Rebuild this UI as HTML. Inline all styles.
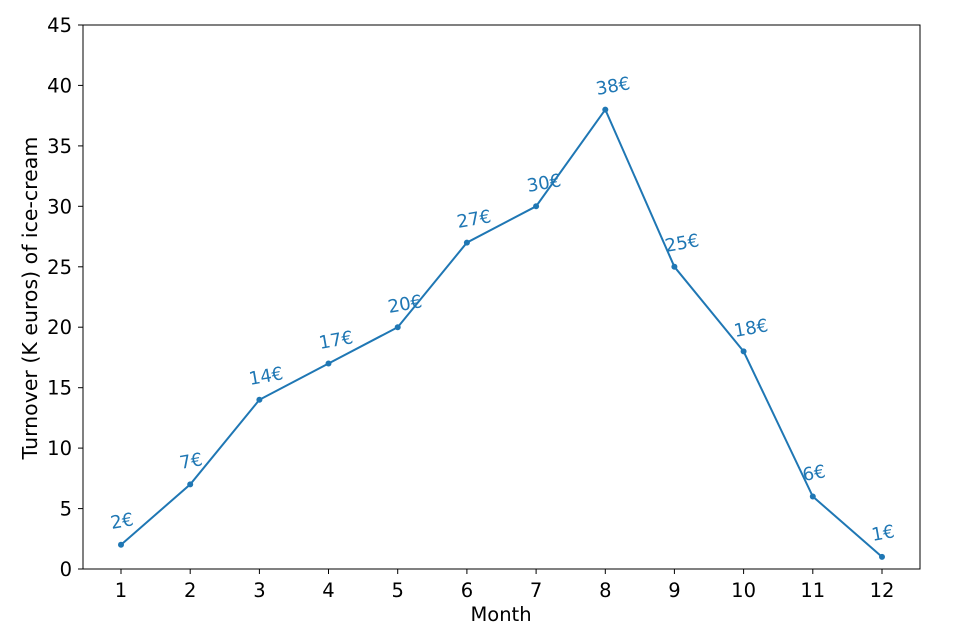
<!DOCTYPE html>
<html><head><style>body{margin:0;background:#fff}svg{display:block}</style></head>
<body>
<svg width="964" height="642" xmlns="http://www.w3.org/2000/svg" font-family="DejaVu Sans, Liberation Sans, sans-serif">
<rect width="964" height="642" fill="#fff"/>
<g stroke="#000" stroke-width="1">
<line x1="83" y1="569" x2="78" y2="569"/><line x1="83" y1="508.6" x2="78" y2="508.6"/>
<line x1="83" y1="448.1" x2="78" y2="448.1"/><line x1="83" y1="387.7" x2="78" y2="387.7"/>
<line x1="83" y1="327.2" x2="78" y2="327.2"/><line x1="83" y1="266.8" x2="78" y2="266.8"/>
<line x1="83" y1="206.3" x2="78" y2="206.3"/><line x1="83" y1="145.9" x2="78" y2="145.9"/>
<line x1="83" y1="85.4" x2="78" y2="85.4"/><line x1="83" y1="25" x2="78" y2="25"/>
<line x1="121" y1="569" x2="121" y2="574"/><line x1="190.2" y1="569" x2="190.2" y2="574"/>
<line x1="259.4" y1="569" x2="259.4" y2="574"/><line x1="328.5" y1="569" x2="328.5" y2="574"/>
<line x1="397.7" y1="569" x2="397.7" y2="574"/><line x1="466.9" y1="569" x2="466.9" y2="574"/>
<line x1="536.1" y1="569" x2="536.1" y2="574"/><line x1="605.3" y1="569" x2="605.3" y2="574"/>
<line x1="674.4" y1="569" x2="674.4" y2="574"/><line x1="743.6" y1="569" x2="743.6" y2="574"/>
<line x1="812.8" y1="569" x2="812.8" y2="574"/><line x1="882" y1="569" x2="882" y2="574"/>
</g>
<g font-size="19.5" fill="#000" text-anchor="end">
<text x="72" y="576">0</text><text x="72" y="515.6">5</text><text x="72" y="455.1">10</text>
<text x="72" y="394.7">15</text><text x="72" y="334.2">20</text><text x="72" y="273.8">25</text>
<text x="72" y="213.3">30</text><text x="72" y="152.9">35</text><text x="72" y="92.4">40</text><text x="72" y="32">45</text>
</g>
<g font-size="19.5" fill="#000" text-anchor="middle">
<text x="121" y="597">1</text><text x="190.2" y="597">2</text><text x="259.4" y="597">3</text>
<text x="328.5" y="597">4</text><text x="397.7" y="597">5</text><text x="466.9" y="597">6</text>
<text x="536.1" y="597">7</text><text x="605.3" y="597">8</text><text x="674.4" y="597">9</text>
<text x="743.6" y="597">10</text><text x="812.8" y="597">11</text><text x="882" y="597">12</text>
<text x="501" y="621">Month</text>
<text transform="translate(37,298) rotate(-90)" font-size="20.5">Turnover (K euros) of ice-cream</text>
</g>
<polyline fill="none" stroke="#1f77b4" stroke-width="2" points="121,544.8 190.2,484.4 259.4,399.8 328.5,363.5 397.7,327.2 466.9,242.6 536.1,206.3 605.3,109.6 674.4,266.8 743.6,351.4 812.8,496.5 882,556.9"/>
<g fill="#1f77b4">
<circle cx="121" cy="544.8" r="3"/><circle cx="190.2" cy="484.4" r="3"/><circle cx="259.4" cy="399.8" r="3"/>
<circle cx="328.5" cy="363.5" r="3"/><circle cx="397.7" cy="327.2" r="3"/><circle cx="466.9" cy="242.6" r="3"/>
<circle cx="536.1" cy="206.3" r="3"/><circle cx="605.3" cy="109.6" r="3"/><circle cx="674.4" cy="266.8" r="3"/>
<circle cx="743.6" cy="351.4" r="3"/><circle cx="812.8" cy="496.5" r="3"/><circle cx="882" cy="556.9" r="3"/>
</g>
<g font-size="18" fill="#1f77b4" text-anchor="middle">
<text transform="translate(123,527) rotate(-10)">2€</text>
<text transform="translate(192,467) rotate(-10)">7€</text>
<text transform="translate(267,382) rotate(-10)">14€</text>
<text transform="translate(337,346) rotate(-10)">17€</text>
<text transform="translate(406,310) rotate(-10)">20€</text>
<text transform="translate(475,225) rotate(-10)">27€</text>
<text transform="translate(545,189) rotate(-10)">30€</text>
<text transform="translate(614,92) rotate(-10)">38€</text>
<text transform="translate(683,249) rotate(-10)">25€</text>
<text transform="translate(752,334) rotate(-10)">18€</text>
<text transform="translate(815,479) rotate(-10)">6€</text>
<text transform="translate(884,539) rotate(-10)">1€</text>
</g>
<rect x="83" y="25" width="837" height="544" fill="none" stroke="#000" stroke-width="1"/>
</svg>
</body></html>
